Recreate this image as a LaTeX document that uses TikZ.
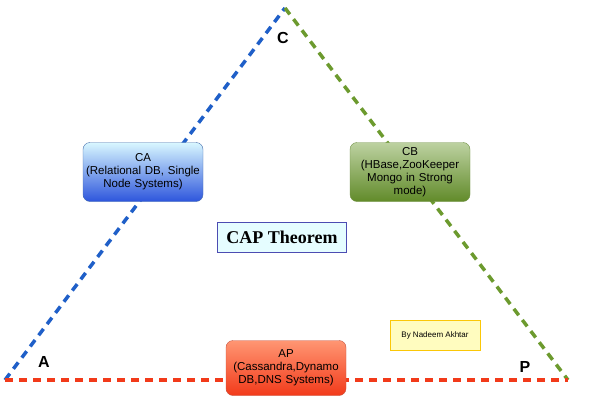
\documentclass[tikz,border=0pt]{standalone}
\usepackage{fontspec}
\setmainfont{Liberation Serif}
\newfontfamily\sansf{Liberation Sans}
\definecolor{cablue}{HTML}{1F5FC8}
\definecolor{cbgreen}{HTML}{6C9A2E}
\definecolor{apred}{HTML}{F23A1A}
\begin{document}
\begin{tikzpicture}[x=1pt, y=-1pt, every node/.style={inner sep=.7mm},
  side/.style={line width=3.5pt, dash pattern=on 8pt off 6pt},
  box/.style={draw, rounded corners=7pt, align=center, font=\sansf\fontsize{11.5}{13}\selectfont, minimum width=120pt, text width=115pt},
  corner/.style={font=\sansf\bfseries\fontsize{16}{17}\selectfont}]
  \useasboundingbox (0,0) rectangle (600,420);
  \coordinate (a) at (5,380);
  \coordinate (c) at (285,8);
  \coordinate (p) at (568,380);
  \draw [side, cablue] (a) -- (c);
  \draw [side, cbgreen] (c) -- (p);
  \draw [side, apred] (a) -- (p);
  \node [corner] (lc) at (283,38) {C};
  \node [corner] (la) at (44,362) {A};
  \node [corner] (lp) at (525,367) {P};
  \node [box, draw=cablue!60!gray, top color=blue!20!cyan!15, bottom color=cablue!70!blue!90, minimum height=59pt] (ca) at (143,172) {CA\\(Relational DB, Single\\Node Systems)};
  \node [box, draw=cbgreen!70!gray, top color=cbgreen!45, bottom color=cbgreen!90!black, minimum height=59pt] (cb) at (410,172) {CB\\(HBase,ZooKeeper\\Mongo in Strong\\mode)};
  \node [box, draw=apred!60!gray, top color=orange!50!red!55, bottom color=apred, minimum height=55pt] (ap) at (286,368) {AP\\(Cassandra,Dynamo\\DB,DNS Systems)};
  \node [draw=blue!40!gray, fill=blue!8!cyan!10, minimum width=129pt, minimum height=30pt, font=\bfseries\fontsize{18}{19}\selectfont] (title) at (282,237) {CAP Theorem};
  \node [draw=yellow!60!orange, fill=yellow!25, minimum width=90pt, minimum height=30pt, font=\sansf\fontsize{8}{9}\selectfont] (by) at (435,335) {By Nadeem Akhtar};
\end{tikzpicture}
\end{document}
